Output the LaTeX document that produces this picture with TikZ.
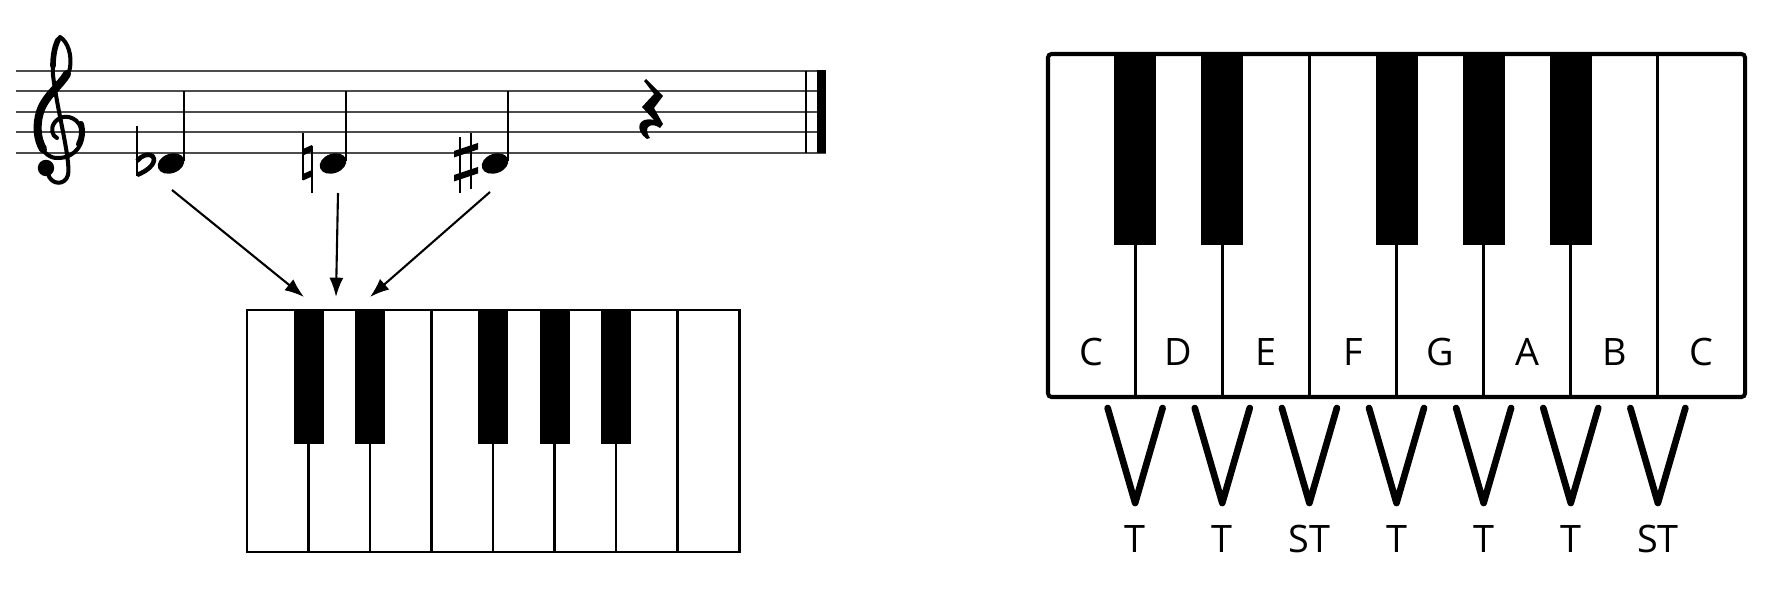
\documentclass[tikz,border=0pt]{standalone}
\usepackage{fontspec}
\setmainfont{Open Sans}
\usetikzlibrary{arrows.meta,positioning,calc}

\begin{document}
\begin{tikzpicture}[x=0.02cm,y=-0.02cm,
    staffline/.style={line width=1.1pt,black!70},
    notehead/.style={fill=black},
    stem/.style={line width=1.2pt},
    pointer/.style={line width=1.2pt,-{Latex[length=11pt,width=8pt]}},
    keyframe/.style={line width=1.7pt},
    keyline/.style={line width=1.2pt},
    namefont/.style={font=\fontsize{21.5}{22}\selectfont,inner sep=0pt}]
  \useasboundingbox[fill=white] (0,0) rectangle (1785,597);

  % staff
  \foreach \yy in {70.7,91.2,111.7,132.2,152.7}
    \draw[staffline] (16,\yy) -- (826,\yy);
  \draw[line width=1.2pt] (806,70.7) -- (806,152.7);
  \fill (817,70.2) rectangle (826,153.2);

  % treble clef
  \draw[line width=2.3pt,line cap=round,line join=round]
    (48,174) .. controls (51,185) and (65,186) .. (68,175)
    .. controls (71,160) and (57,110) .. (53,75)
    .. controls (52,55) and (56,42) .. (60,37)
    .. controls (68,42) and (72,55) .. (70,68)
    .. controls (67,82) and (44,95) .. (38,115)
    .. controls (32,135) and (42,159) .. (58,158)
    .. controls (76,158) and (86,142) .. (81,128)
    .. controls (77,116) and (62,113) .. (55,122)
    .. controls (50,128) and (52,136) .. (57,138);
  \draw[line width=4.6pt,line cap=round]
    (67,74) .. controls (60,86) and (45,96) .. (40,112)
    .. controls (36,125) and (37,139) .. (43,149);
  \draw[line width=3.4pt,line cap=round]
    (81,124) .. controls (83,131) and (82,139) .. (79,144);
  \draw[line width=3.2pt,line cap=round]
    (58,40) .. controls (55,46) and (53,55) .. (53,66);
  \fill (46,168) circle (8.2);

  % D flat
  \draw[line width=1.4pt] (137,126) -- (137,176);
  \draw[line width=2.6pt] (137,161) .. controls (146,150) and (159,155) .. (152,165)
    .. controls (148,170) and (142,173) .. (137,175);
  \coordinate (hDb) at (171,163.5);
  \fill[notehead,rotate around={20:(hDb)}] (hDb) ellipse [x radius=13.7, y radius=9.7];
  \draw[stem] (184,161) -- (184,91);

  % D natural
  \draw[line width=1.3pt] (303,133) -- (303,180);
  \draw[line width=1.3pt] (312,146) -- (312,193);
  \fill (303,149) -- (312,145) -- (312,151.5) -- (303,155.5) -- cycle;
  \fill (303,174) -- (312,170) -- (312,176.5) -- (303,180.5) -- cycle;
  \coordinate (hD) at (333,163.5);
  \fill[notehead,rotate around={20:(hD)}] (hD) ellipse [x radius=13.7, y radius=9.7];
  \draw[stem] (346,161) -- (346,91);

  % D sharp
  \draw[line width=1.2pt] (460,137) -- (460,193);
  \draw[line width=1.2pt] (471,133) -- (471,189);
  \fill (454,151) -- (478,143) -- (478,149.5) -- (454,157.5) -- cycle;
  \fill (454,175) -- (478,167) -- (478,173.5) -- (454,181.5) -- cycle;
  \coordinate (hDs) at (495,163.5);
  \fill[notehead,rotate around={20:(hDs)}] (hDs) ellipse [x radius=13.7, y radius=9.7];
  \draw[stem] (508,161) -- (508,91);

  % quarter rest
  \fill (646,79) -- (663,96) -- (654,108) -- (663,124) -- (660,128)
    .. controls (652,122) and (642,126) .. (650,138) -- (647,139)
    .. controls (634,130) and (638,116) .. (654,120) -- (642,107)
    -- (654,94) -- (644,81) -- cycle;

  % arrows to the keys
  \coordinate (aDb) at (172,190);
  \coordinate (aD) at (338,193);
  \coordinate (aDs) at (490,192);
  \coordinate (kDb) at (304,297);
  \coordinate (kD) at (336,297);
  \coordinate (kDs) at (370,297);
  \draw[pointer] (aDb) -- (kDb);
  \draw[pointer] (aD) -- (kD);
  \draw[pointer] (aDs) -- (kDs);

  % small keyboard
  \foreach \i in {1,...,7}
    \draw[keyline] ({247+61.5*\i},310) -- ({247+61.5*\i},552);
  \foreach \i in {1,2,4,5,6}
    \fill ({247+61.5*\i-15},310) rectangle ({247+61.5*\i+15},444);
  \draw[keyframe] (247,310) rectangle (739,552);

  % large keyboard
  \foreach \i in {1,...,7}
    \draw[line width=1.7pt] ({1048+87.125*\i},54) -- ({1048+87.125*\i},397);
  \foreach \i in {1,2,4,5,6}
    \fill ({1048+87.125*\i-21},54) rectangle ({1048+87.125*\i+21},245);
  \draw[line width=2.3pt,rounded corners=2pt] (1048,54) rectangle (1745,397);
  \foreach \n [count=\i] in {C,D,E,F,G,A,B,C}
    \node (wk\i) [namefont] at ({1048+87.125*(\i-0.5)},352) {\n};

  % steps
  \foreach \s [count=\i] in {T,T,ST,T,T,T,ST} {
    \coordinate (v\i) at ({1048+87.125*\i},503);
    \draw[line width=3.8pt,line join=round,line cap=round]
      ($(v\i)+(-27.5,-95)$) -- (v\i) -- ($(v\i)+(27.5,-95)$);
    \node (st\i) [namefont] at ({1048+87.125*\i},539) {\s};
  }
\end{tikzpicture}
\end{document}
